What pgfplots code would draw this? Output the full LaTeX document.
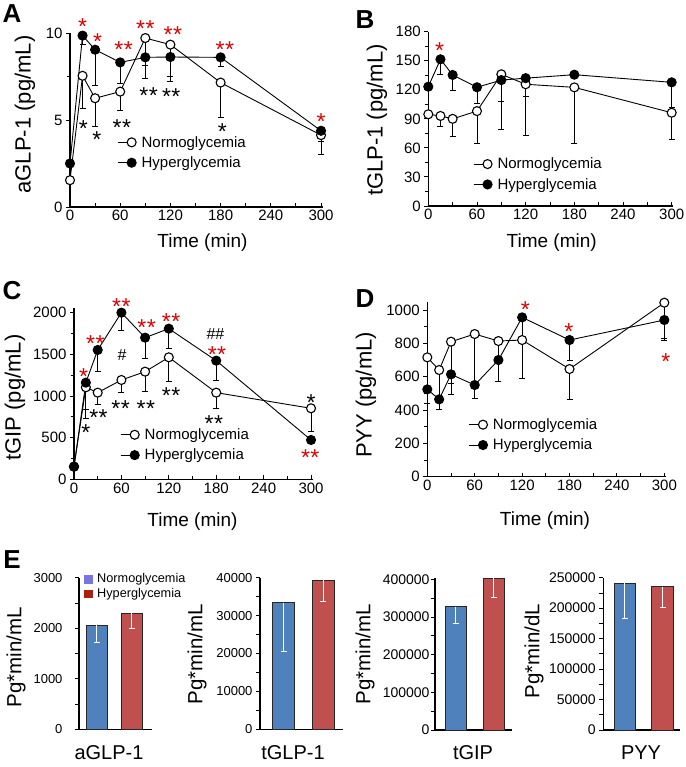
\documentclass[border=0pt]{standalone}
\usepackage{fontspec}
\setmainfont{Liberation Sans}
\usepackage{pgfplots}
\pgfplotsset{compat=1.18}
\definecolor{barblue}{RGB}{79,129,189}
\definecolor{barred}{RGB}{192,80,77}
\definecolor{legblue}{RGB}{118,118,222}
\definecolor{legred}{RGB}{168,32,18}
\definecolor{astred}{RGB}{222,0,0}
\pgfplotsset{
  lineax/.style={
    scale only axis, clip=false,
    axis lines=left, axis line style={line width=1.3pt,-},
    xmin=0, xmax=302, xtick={0,60,...,300}, minor xtick={30,90,...,270},
    ymin=0,
    tick style={line width=0.9pt,black},
    major tick length=4pt, minor tick length=3.5pt,
    xtick align=inside, ytick align=outside,
    /pgf/number format/fixed, /pgf/number format/1000 sep={},
    /pgf/number format/assume math mode=true,
    ticklabel style={font=\fontsize{15}{15}\selectfont},
    legend style={draw=none, fill=none, anchor=west, font=\fontsize{15}{18}\selectfont, row sep=4pt, inner sep=0pt},
    legend cell align=left,
    legend image code/.code={\path[draw=none,fill=none] (0pt,-4pt) rectangle (22pt,4pt);\draw[mark repeat=2,mark phase=2,##1] plot coordinates {(0pt,0pt) (14pt,0pt) (14pt,0pt)};},
  },
  normo/.style={black, line width=0.9pt, mark=*, mark size=4.5pt, mark options={fill=white, line width=1.1pt, solid},
    error bars/y dir=minus, error bars/y explicit,
    error bars/error bar style={line width=0.8pt, black},
    error bars/error mark options={rotate=90, mark size=3pt, line width=0.8pt, black}},
  hyper/.style={black, line width=0.9pt, mark=*, mark size=4.5pt, mark options={fill=black, line width=1.1pt, solid},
    error bars/y dir=minus, error bars/y explicit,
    error bars/error bar style={line width=0.8pt, black},
    error bars/error mark options={rotate=90, mark size=3pt, line width=0.8pt, black}},
  barax/.style={
    scale only axis, clip=false,
    axis lines=left, axis line style={line width=1.1pt,-},
    xtick=\empty, ymin=0,
    ytick align=outside, tick style={line width=0.8pt,black},
    major tick length=4pt, minor tick length=4pt, minor y tick num=1,
    /pgf/number format/fixed, /pgf/number format/precision=0,
    /pgf/number format/assume math mode=true, /pgf/number format/1000 sep={}, scaled y ticks=false,
    yticklabel style={font=\fontsize{13}{13}\selectfont},
  },
  barb/.style={ybar, bar shift=0pt, fill=barblue, draw=black!85, line width=0.8pt,
    error bars/y dir=minus, error bars/y explicit,
    error bars/error bar style={white, line width=1pt},
    error bars/error mark options={white, rotate=90, mark size=3pt, line width=1pt}},
  barr/.style={barb, fill=barred},
}
\newcommand{\dd}{*\kern0.5pt*}
\tikzset{
  ra/.style={text=astred, font=\fontsize{23}{23}\selectfont, yshift=-4.9pt, inner sep=0pt},
  ba/.style={text=black, font=\fontsize{23}{23}\selectfont, yshift=-4.9pt, inner sep=0pt},
  hs/.style={text=black, font=\fontsize{16}{16}\selectfont, inner sep=0pt},
  yl/.style={rotate=90, font=\fontsize{22}{22}\selectfont, inner sep=0pt},
  yle/.style={rotate=90, font=\fontsize{20.5}{20.5}\selectfont, inner sep=0pt},
  xl/.style={anchor=base, font=\fontsize{19}{19}\selectfont, inner sep=0pt},
  xle/.style={anchor=base, font=\fontsize{20}{20}\selectfont, inner sep=0pt},
  pl/.style={font=\bfseries\fontsize{26}{26}\selectfont, inner sep=0pt},
}
\begin{document}
\begin{tikzpicture}
\useasboundingbox (0,0) rectangle (685pt,767pt);

% ---------------- A ----------------
\begin{axis}[lineax, at={(70pt,560pt)}, anchor=south west, width=252.7pt, height=174pt,
  ymax=10, ytick={0,5,10}, minor y tick num=1,
  legend style={at={(0.186,0.313)}}]
\addplot[normo] table[row sep=\\, x=t, y=v, y error=e]{t v e\\
0 1.54 0\\ 15 7.54 1.87\\ 30 6.25 1.6\\ 60 6.63 1.09\\ 90 9.71 1.6\\ 120 9.33 2.1\\ 180 7.15 2.0\\ 300 4.13 1.09\\};
\addlegendentry{Normoglycemia}
\addplot[hyper] table[row sep=\\, x=t, y=v, y error=e]{t v e\\
0 2.5 0\\ 15 9.85 0.5\\ 30 9.04 2.08\\ 60 8.31 1.19\\ 90 8.6 1.2\\ 120 8.62 1.1\\ 180 8.6 0.5\\ 300 4.38 0.63\\};
\addlegendentry{Hyperglycemia}
\node[ra] at (axis cs:15,10.67) {*};
\node[ra] at (axis cs:33,9.81) {*};
\node[ra] at (axis cs:64,9.33) {\dd};
\node[ra] at (axis cs:90,10.54) {\dd};
\node[ra] at (axis cs:123,10.19) {\dd};
\node[ra] at (axis cs:185,9.33) {\dd};
\node[ra] at (axis cs:300,5.19) {*};
\node[ba] at (axis cs:16,4.81) {*};
\node[ba] at (axis cs:32,4.13) {*};
\node[ba] at (axis cs:62,4.85) {\dd};
\node[ba] at (axis cs:94,6.69) {\dd};
\node[ba] at (axis cs:121,6.63) {\dd};
\node[ba] at (axis cs:182,4.62) {*};
\end{axis}

% ---------------- B ----------------
\begin{axis}[lineax, at={(428.3pt,561pt)}, anchor=south west, width=245pt, height=174.3pt,
  ymax=180, ytick={0,30,...,180}, minor y tick num=1,
  legend style={at={(0.182,0.182)}}]
\addplot[normo] table[row sep=\\, x=t, y=v, y error=e]{t v e\\
0 94.7 0\\ 15 93 11\\ 30 90 18\\ 60 98 33\\ 90 136 57\\ 120 125.7 53\\ 180 122.5 58\\ 300 96.3 28\\};
\addlegendentry{Normoglycemia}
\addplot[hyper] table[row sep=\\, x=t, y=v, y error=e]{t v e\\
0 123.2 0\\ 15 151.5 16\\ 30 135.3 16\\ 60 122.6 17\\ 90 130 21.5\\ 120 132 19\\ 180 135.6 0\\ 300 127.7 26\\};
\addlegendentry{Hyperglycemia}
\node[ra] at (axis cs:14,166) {*};
\end{axis}

% ---------------- C ----------------
\begin{axis}[lineax, at={(74pt,287.7pt)}, anchor=south west, width=238.6pt, height=170.8pt,
  ymax=2050, ytick={0,500,...,2000}, minor y tick num=1,
  legend style={at={(0.193,0.201)}}]
\addplot[normo] table[row sep=\\, x=t, y=v, y error=e]{t v e\\
0 152 0\\ 15 1104 372\\ 30 1040 136\\ 60 1192 152\\ 90 1292 240\\ 120 1464 284\\ 180 1040 188\\ 300 852 280\\};
\addlegendentry{Normoglycemia}
\addplot[hyper] table[row sep=\\, x=t, y=v, y error=e]{t v e\\
0 152 0\\ 15 1160 320\\ 30 1552 260\\ 60 2000 216\\ 90 1700 248\\ 120 1808 240\\ 180 1424 240\\ 300 472 0\\};
\addlegendentry{Hyperglycemia}
\node[ra] at (axis cs:12,1292) {*};
\node[ra] at (axis cs:27,1692) {\dd};
\node[ra] at (axis cs:60,2132) {\dd};
\node[ra] at (axis cs:92,1880) {\dd};
\node[ra] at (axis cs:123,1952) {\dd};
\node[ra] at (axis cs:181,1560) {\dd};
\node[ra] at (axis cs:299,320) {\dd};
\node[ba] at (axis cs:15,624) {*};
\node[ba] at (axis cs:31,804) {\dd};
\node[ba] at (axis cs:59,912) {\dd};
\node[ba] at (axis cs:91,912) {\dd};
\node[ba] at (axis cs:123,1064) {\dd};
\node[ba] at (axis cs:177,728) {\dd};
\node[ba] at (axis cs:300,984) {*};
\node[hs] at (axis cs:61,1492) {\#};
\node[hs] at (axis cs:179,1740) {\#\#};
\end{axis}

% ---------------- D ----------------
\begin{axis}[lineax, at={(427.3pt,290.3pt)}, anchor=south west, width=238.6pt, height=175pt,
  ymax=1050, ytick={0,200,...,1000}, minor y tick num=1,
  legend style={at={(0.172,0.239)}}]
\addplot[normo] table[row sep=\\, x=t, y=v, y error=e]{t v e\\
0 716 0\\ 15 640 180\\ 30 810 250\\ 60 856 386\\ 90 814 244\\ 120 820 230\\ 180 646 180\\ 300 1044 214\\};
\addlegendentry{Normoglycemia}
\addplot[hyper] table[row sep=\\, x=t, y=v, y error=e]{t v e\\
0 524 84\\ 15 464 60\\ 30 614 118\\ 60 550 80\\ 90 700 130\\ 120 956 136\\ 180 820 120\\ 300 940 120\\};
\addlegendentry{Hyperglycemia}
\node[ra] at (axis cs:124,1030) {*};
\node[ra] at (axis cs:179,900) {*};
\node[ra] at (axis cs:302,720) {*};
\end{axis}

% ---------------- E1 ----------------
\begin{axis}[barax, at={(79pt,37.7pt)}, anchor=south west, width=72.7pt, height=151.6pt,
  xmin=-0.503, xmax=1.567, ymax=3000, ytick={0,1000,2000,3000},
  yticklabel style={xshift=-9pt},
  legend style={draw=none, fill=none, at={(0.069,0.942)}, anchor=west, font=\fontsize{12.7}{15}\selectfont, inner sep=0pt, row sep=0pt},
  legend cell align=left,
  legend image code/.code={\path[draw=none,fill=none] (0pt,-4pt) rectangle (11pt,4pt);\draw[#1] plot coordinates {(4pt,0pt)};}]
\addlegendimage{only marks, mark=square*, mark size=3.8pt, legblue}
\addlegendimage{only marks, mark=square*, mark size=3.8pt, legred}
\legend{Normoglycemia,Hyperglycemia}
\addplot[barb, bar width=21.3pt] table[row sep=\\, x=x, y=y, y error=e]{x y e\\ 0 2064 350\\};
\addplot[barr, bar width=21.3pt] table[row sep=\\, x=x, y=y, y error=e]{x y e\\ 1 2295 304\\};
\end{axis}

% ---------------- E2 ----------------
\begin{axis}[barax, at={(260pt,37.7pt)}, anchor=south west, width=83.3pt, height=151.6pt,
  xmin=-0.596, xmax=1.504, ymax=40000, ytick={0,10000,20000,30000,40000}]
\addplot[barb, bar width=22.5pt] table[row sep=\\, x=x, y=y, y error=e]{x y e\\ 0 33400 12900\\};
\addplot[barr, bar width=22.5pt] table[row sep=\\, x=x, y=y, y error=e]{x y e\\ 1 39400 5700\\};
\end{axis}

% ---------------- E3 ----------------
\begin{axis}[barax, at={(435pt,37pt)}, anchor=south west, width=76.7pt, height=151.5pt,
  xmin=-0.551, xmax=1.477, ymax=402000, ytick={0,100000,200000,300000,400000},
  yticklabel style={font=\fontsize{14}{14}\selectfont, xshift=2pt}]
\addplot[barb, bar width=21.3pt] table[row sep=\\, x=x, y=y, y error=e]{x y e\\ 0 327400 44000\\};
\addplot[barr, bar width=21.3pt] table[row sep=\\, x=x, y=y, y error=e]{x y e\\ 1 402000 50000\\};
\end{axis}

% ---------------- E4 ----------------
\begin{axis}[barax, at={(603.3pt,37pt)}, anchor=south west, width=76.7pt, height=152.3pt,
  xmin=-0.572, xmax=1.465, ymax=250000, ytick={0,50000,100000,150000,200000,250000},
  yticklabel style={font=\fontsize{14}{14}\selectfont}]
\addplot[barb, bar width=21.6pt] table[row sep=\\, x=x, y=y, y error=e]{x y e\\ 0 240700 57400\\};
\addplot[barr, bar width=21.6pt] table[row sep=\\, x=x, y=y, y error=e]{x y e\\ 1 235200 34000\\};
\end{axis}

% ---------------- labels ----------------
\node[pl] at (12pt,753.7pt) {A};
\node[pl] at (365pt,747pt) {B};
\node[pl] at (12pt,476pt) {C};
\node[pl] at (365pt,468.5pt) {D};
\node[pl] at (12pt,207pt) {E};

\node[yl] at (25pt,652.5pt) {aGLP-1 (pg/mL)};
\node[yl] at (377pt,647pt) {tGLP-1 (pg/mL)};
\node[yl] at (15pt,369.5pt) {tGIP (pg/mL)};
\node[yl] at (366pt,372pt) {PYY (pg/mL)};
\node[yle] at (16pt,110pt) {Pg*min/mL};
\node[yle] at (197pt,113pt) {Pg*min/mL};
\node[yle] at (365pt,113pt) {Pg*min/mL};
\node[yle] at (534pt,116pt) {Pg*min/dL};

\node[xl] at (202.5pt,519.3pt) {Time (min)};
\node[xl] at (551.7pt,519.3pt) {Time (min)};
\node[xl] at (192.5pt,240.1pt) {Time (min)};
\node[xl] at (545pt,241.7pt) {Time (min)};

\node[xle] at (109pt,7.7pt) {aGLP-1};
\node[xle] at (293pt,7.7pt) {tGLP-1};
\node[xle] at (473pt,7.7pt) {tGIP};
\node[xle] at (641pt,7.7pt) {PYY};
\end{tikzpicture}
\end{document}
